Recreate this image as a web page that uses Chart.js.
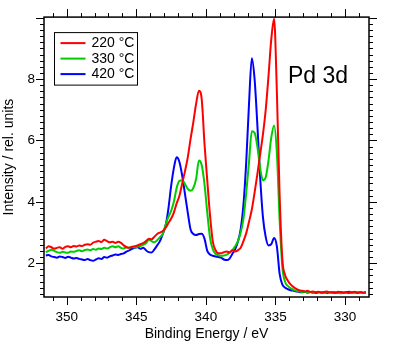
<!DOCTYPE html>
<html><head><meta charset="utf-8">
<script src="https://cdn.jsdelivr.net/npm/chart.js@4.4.1/dist/chart.umd.min.js"></script>
<style>html,body{margin:0;padding:0;background:#fff;} canvas{display:block;}</style>
</head><body>
<canvas id="c" width="400" height="343"></canvas>
<script>
// Binding energy grid (eV)
const energies = [
 351.5,351.3,351.1,350.9,350.7,350.5,350.3,350.1,349.9,349.7,
 349.5,349.3,349.1,348.9,348.7,348.5,348.3,348.1,347.9,347.7,
 347.5,347.3,347.1,346.9,346.7,346.5,346.3,346.1,345.9,345.7,
 345.5,345.3,345.1,344.9,344.7,344.5,344.3,344.1,343.9,343.7,
 343.5,343.3,343.1,342.9,342.7,342.5,342.3,342.1,341.9,341.7,
 341.5,341.3,341.1,340.9,340.7,340.5,340.3,340.1,339.9,339.7,
 339.5,339.3,339.1,338.9,338.7,338.5,338.3,338.1,337.9,337.7,
 337.5,337.3,337.1,336.9,336.7,336.5,336.3,336.1,335.9,335.7,
 335.5,335.3,335.1,334.9,334.7,334.5,334.3,334.1,333.9,333.7,
 333.5,333.3,333.1,332.9,332.7,332.5,332.3,332.1,331.9,331.7,
 331.5,331.3,331.1,330.9,330.7,330.5,330.3,330.1,329.9,329.7,
 329.5,329.3,329.1,328.9,328.7,328.5
];
// 220 °C
const red220 = [
 2.48,2.55,2.52,2.47,2.50,2.52,2.47,2.53,2.55,2.52,
 2.56,2.54,2.58,2.56,2.60,2.62,2.60,2.67,2.70,2.72,
 2.69,2.76,2.72,2.68,2.70,2.66,2.70,2.66,2.58,2.52,
 2.50,2.54,2.55,2.58,2.62,2.65,2.72,2.80,2.78,2.86,
 2.95,3.00,3.05,3.15,3.30,3.45,3.65,3.95,4.20,4.60,
 5.00,5.45,6.05,6.60,7.20,7.62,7.35,5.90,4.70,3.55,
 2.70,2.42,2.32,2.32,2.36,2.38,2.35,2.42,2.38,2.42,
 2.50,2.72,2.98,3.35,3.75,4.30,4.90,5.55,6.20,7.00,
 8.10,9.30,9.97,7.60,4.20,2.10,1.60,1.42,1.30,1.22,
 1.16,1.12,1.10,1.08,1.10,1.06,1.08,1.05,1.07,1.04,
 1.06,1.08,1.04,1.06,1.03,1.07,1.05,1.04,1.06,1.03,
 1.05,1.07,1.04,1.06,1.04,1.05
];
// 330 °C
const green330 = [
 2.36,2.40,2.44,2.40,2.36,2.34,2.37,2.35,2.34,2.38,
 2.37,2.40,2.42,2.39,2.43,2.45,2.42,2.46,2.44,2.48,
 2.46,2.50,2.48,2.52,2.55,2.52,2.55,2.50,2.48,2.52,
 2.50,2.53,2.51,2.54,2.56,2.60,2.65,2.76,2.72,2.68,
 2.75,2.85,2.95,3.25,3.50,3.70,4.00,4.45,4.68,4.70,
 4.58,4.42,4.36,4.45,4.75,5.35,5.20,4.58,3.65,2.82,
 2.45,2.30,2.26,2.24,2.25,2.28,2.34,2.42,2.55,2.72,
 3.00,3.45,4.30,5.30,6.30,6.25,5.80,5.10,4.70,4.80,
 5.35,6.10,6.49,5.60,3.40,1.85,1.38,1.25,1.18,1.13,
 1.10,1.08,1.06,1.07,1.04,1.06,1.03,1.05,1.04,1.06,
 1.03,1.05,1.06,1.03,1.05,1.04,1.02,1.05,1.03,1.04,
 1.06,1.03,1.05,1.04,1.03,1.04
];
// 420 °C
const blue420 = [
 2.25,2.27,2.22,2.20,2.18,2.22,2.20,2.17,2.21,2.18,
 2.15,2.17,2.14,2.12,2.10,2.14,2.10,2.08,2.12,2.16,
 2.14,2.20,2.18,2.22,2.25,2.28,2.27,2.30,2.32,2.38,
 2.42,2.47,2.50,2.52,2.47,2.50,2.42,2.36,2.35,2.45,
 2.58,2.72,2.95,3.20,3.75,4.50,5.10,5.45,5.30,4.85,
 4.25,3.65,3.10,2.95,2.92,2.95,2.96,2.80,2.40,2.28,
 2.24,2.22,2.20,2.18,2.12,2.10,2.15,2.30,2.45,2.70,
 3.10,3.90,5.30,7.20,8.68,8.00,6.50,4.80,3.50,2.85,
 2.58,2.62,2.82,2.55,1.65,1.30,1.20,1.15,1.12,1.10,
 1.08,1.06,1.05,1.07,1.04,1.06,1.05,1.03,1.06,1.04,
 1.05,1.03,1.06,1.04,1.05,1.03,1.06,1.04,1.05,1.07,
 1.04,1.06,1.03,1.05,1.04,1.05
];
const seriesLabels = ['220 °C', '330 °C', '420 °C'];
const seriesColors = ['#ff0000', '#00cc00', '#0000ff'];
const xTickLabels = [350, 345, 340, 335, 330];
const yTickLabels = [2, 4, 6, 8];
const xTitle = 'Binding Energy / eV';
const yTitle = 'Intensity / rel. units';
const annotationText = 'Pd 3d';

[red220, green330, blue420].forEach((a, i) => {
  if (a.length !== energies.length) throw new Error('length mismatch series ' + i + ': ' + a.length + ' vs ' + energies.length);
});

const FONT = "'Liberation Sans', Arial, sans-serif";
Chart.defaults.font.family = FONT;
Chart.defaults.font.size = 13;
Chart.defaults.color = '#000';

const pts = arr => energies.map((x, i) => ({ x: x, y: arr[i] }));

const frameTicks = {
  id: 'frameTicks',
  afterDraw(chart) {
    const { ctx, chartArea: a, scales: { x, y } } = chart;
    ctx.save();
    ctx.strokeStyle = '#000';
    ctx.lineWidth = 1;
    ctx.beginPath();
    for (let v = 329; v <= 351; v++) {
      const px = Math.round(x.getPixelForValue(v)) + 0.5;
      const len = v % 5 === 0 ? 8 : 4;
      ctx.moveTo(px, a.bottom); ctx.lineTo(px, a.bottom + len);
      ctx.moveTo(px, a.top); ctx.lineTo(px, a.top - len);
    }
    for (let k = 5; k <= 50; k++) {
      const py = Math.round(y.getPixelForValue(k / 5)) + 0.5;
      const len = k % 10 === 0 ? 8 : 4;
      ctx.moveTo(a.left, py); ctx.lineTo(a.left - len, py);
      ctx.moveTo(a.right, py); ctx.lineTo(a.right + len, py);
    }
    ctx.stroke();
    ctx.lineWidth = 1.5;
    ctx.strokeRect(a.left, a.top, a.right - a.left, a.bottom - a.top);

    // legend box
    const lx = a.left + 10.5, ly = a.top + 15.5, lw = 83, lh = 52.5;
    ctx.fillStyle = '#fff';
    ctx.fillRect(lx, ly, lw, lh);
    ctx.lineWidth = 1;
    ctx.strokeRect(lx, ly, lw, lh);
    ctx.font = '14px ' + FONT;
    ctx.textBaseline = 'middle';
    ctx.textAlign = 'left';
    chart.data.datasets.forEach((ds, i) => {
      const ry = ly + 10.5 + i * 15.5;
      ctx.strokeStyle = ds.borderColor;
      ctx.lineWidth = 2;
      ctx.beginPath(); ctx.moveTo(lx + 6, ry); ctx.lineTo(lx + 31, ry); ctx.stroke();
      ctx.fillStyle = '#000';
      ctx.fillText(ds.label, lx + 37, ry + 0.5);
    });

    // annotation
    ctx.font = '23px ' + FONT;
    ctx.textBaseline = 'alphabetic';
    ctx.fillStyle = '#000';
    ctx.fillText(annotationText, a.left + 244, a.top + 66);
    ctx.restore();
  }
};

new Chart(document.getElementById('c'), {
  type: 'line',
  data: {
    datasets: [red220, green330, blue420].map((arr, i) => ({
      label: seriesLabels[i],
      data: pts(arr),
      borderColor: seriesColors[i],
      backgroundColor: seriesColors[i],
      borderWidth: 2,
      pointRadius: 0,
      cubicInterpolationMode: 'monotone',
      fill: false
    }))
  },
  options: {
    responsive: false,
    animation: false,
    devicePixelRatio: 1,
    layout: { padding: { top: 13, right: 31, left: 0, bottom: 0 } },
    plugins: { legend: { display: false }, tooltip: { enabled: false } },
    scales: {
      x: {
        type: 'linear',
        reverse: true,
        min: 328.28,
        max: 351.63,
        afterBuildTicks: s => { s.ticks = xTickLabels.map(v => ({ value: v })); },
        afterFit: s => { s.height = 46; },
        ticks: { padding: 12, maxRotation: 0, autoSkip: false, font: { size: 13.5 }, callback: v => String(v) },
        grid: { display: false, drawTicks: false },
        border: { display: false },
        title: { display: true, text: xTitle, padding: { top: 0, bottom: 0 }, font: { size: 14 } }
      },
      y: {
        type: 'linear',
        min: 0.898,
        max: 10.02,
        afterBuildTicks: s => { s.ticks = yTickLabels.map(v => ({ value: v })); },
        afterFit: s => { s.width = 44; },
        ticks: { padding: 9, autoSkip: false, font: { size: 13.5 }, callback: v => String(v) },
        grid: { display: false, drawTicks: false },
        border: { display: false },
        title: { display: true, text: yTitle, padding: { top: 1, bottom: 0 }, font: { size: 14 } }
      }
    }
  },
  plugins: [frameTicks]
});
</script>
</body></html>
